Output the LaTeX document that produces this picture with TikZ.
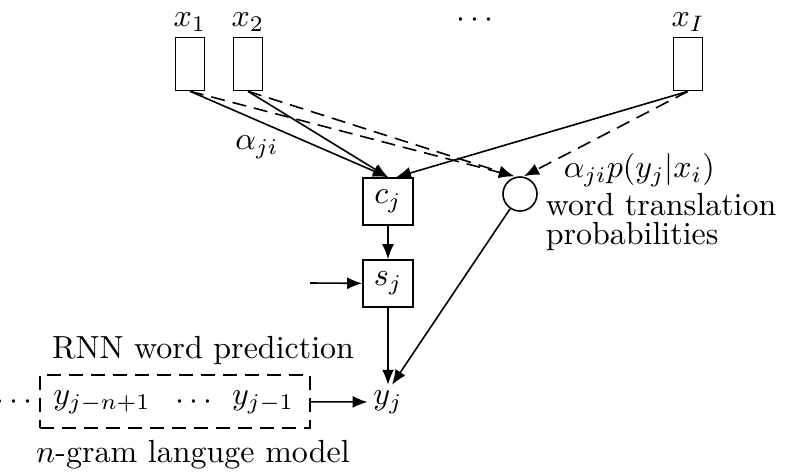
\documentclass[tikz,border=0pt]{standalone}
\usetikzlibrary{arrows.meta}
\begin{document}
\begin{tikzpicture}[x=1pt,y=-1pt,line width=1.6pt,
  txt/.style={scale=3.2,inner sep=1pt},
  inbox/.style={draw,minimum width=29pt,minimum height=53pt,inner sep=0pt},
  sq/.style={draw,minimum width=50pt,minimum height=47pt,inner sep=0pt},
  arr/.style={-{Latex[length=15pt,width=12pt]}},
  darr/.style={arr,dashed,dash pattern=on 14pt off 8pt}]
\useasboundingbox (0,0) rectangle (806,475);
\node[inbox] (b1) at (190,64) {};
\node[inbox] (b2) at (248,64) {};
\node[inbox] (bI) at (688,64) {};
\node[txt] (l1) at (190,22) {$x_1$};
\node[txt] (l2) at (248,22) {$x_2$};
\node[txt] (lI) at (688,22) {$x_I$};
\node[txt] (ld) at (475,20) {$\cdots$};
\node[sq] (c) at (388,201.5) {};
\node[txt] (ct) at (c) {$c_j$};
\node[sq] (s) at (388,283.5) {};
\node[txt] (st) at (s) {$s_j$};
\node[draw,circle,minimum size=34pt,inner sep=0pt] (p) at (520,194) {};
\node[txt] (y) at (388,402) {$y_j$};
\node[draw,dashed,dash pattern=on 14pt off 8pt,minimum width=270pt,minimum height=53pt,inner sep=0pt] (db) at (175,401.5) {};
\node[txt] (ya) at (102,402) {$y_{j-n+1}$};
\node[txt] (yd) at (194,402) {$\cdots$};
\node[txt] (yb) at (263,402) {$y_{j-1}$};
\node[txt] (od) at (14,402) {$\cdots$};
\coordinate (sin) at (310,283);
\node[txt] (alpha) at (257,147) {$\alpha_{ji}$};
\node[txt,anchor=west] (ap) at (558,170) {$\alpha_{ji}p(y_j|x_i)$};
\node[txt,anchor=west,align=left] (wt) at (540,222) {word translation\\[-3pt]probabilities};
\node[txt] (rnn) at (203,350) {RNN word prediction};
\node[txt] (ng) at (193,455) {$n$-gram languge model};
\draw[arr] (b1.south) -- (c.north);
\draw[arr] (b2.south) -- (c.north);
\draw[arr] (bI.south) -- ([xshift=8pt]c.north);
\draw[darr] (b1.south) -- ([xshift=-6pt]p.north);
\draw[darr] (b2.south) -- ([xshift=-6pt]p.north);
\draw[darr] (bI.south) -- ([xshift=4pt]p.north);
\draw[arr] (c) -- (s);
\draw[arr] (sin) -- (s);
\draw[arr] (s) -- (y.north);
\draw[arr] (p) -- ([xshift=4pt]y.north);
\draw[arr] (db) -- (y);
\end{tikzpicture}
\end{document}
